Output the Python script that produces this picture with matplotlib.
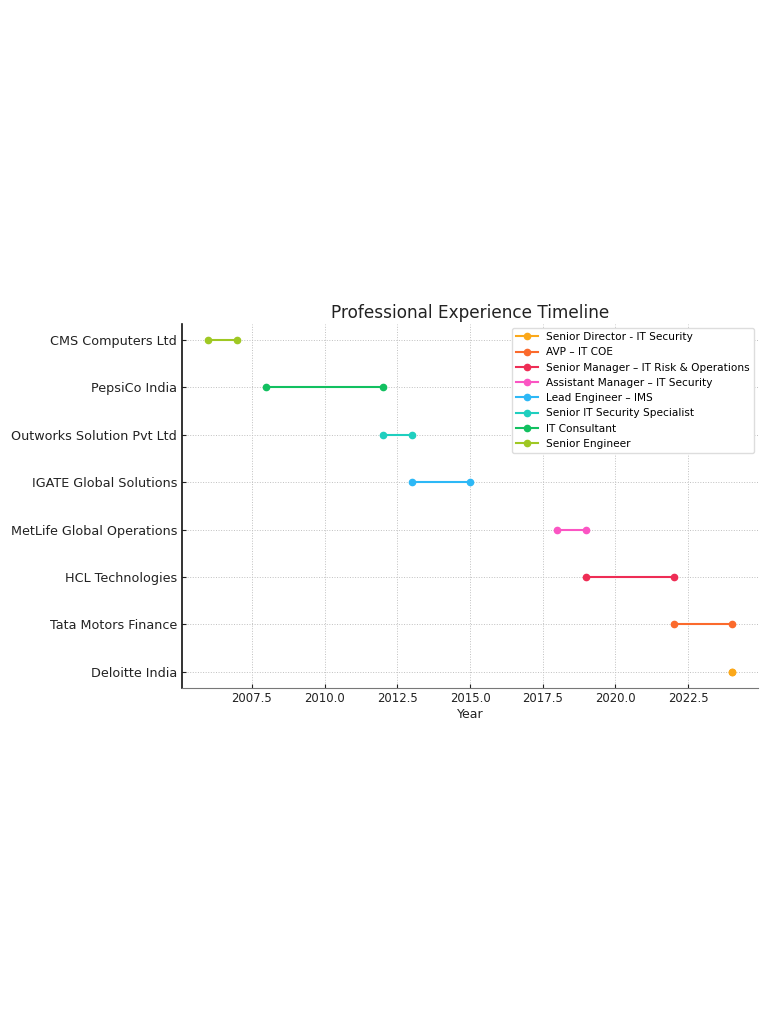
import matplotlib.pyplot as plt

# data, listed bottom to top as it appears on the axis
companies = ["Deloitte India", "Tata Motors Finance", "HCL Technologies",
             "MetLife Global Operations", "IGATE Global Solutions",
             "Outworks Solution Pvt Ltd", "PepsiCo India", "CMS Computers Ltd"]
roles = ["Senior Director - IT Security", "AVP – IT COE",
         "Senior Manager – IT Risk & Operations", "Assistant Manager – IT Security",
         "Lead Engineer – IMS", "Senior IT Security Specialist",
         "IT Consultant", "Senior Engineer"]
start_year = [2024, 2022, 2019, 2018, 2013, 2012, 2008, 2006]
end_year = [2024, 2024, 2022, 2019, 2015, 2013, 2012, 2007]
colors = ["#FBA81A", "#FB6A2C", "#EE2D55", "#FB55C3",
          "#2DB8F6", "#1FCFBF", "#12C060", "#9FC823"]

fig = plt.figure(figsize=(7.68, 10.24), dpi=100)
ax = fig.add_axes([0.237, 0.328, 0.75, 0.356])

for c, r, s, e, col in zip(companies, roles, start_year, end_year, colors):
    ax.plot([s, e], [c, c], marker="o", markersize=4.5, linewidth=1.5,
            color=col, label=r)

ax.set_title("Professional Experience Timeline", fontsize=12.2, color="#222222", pad=4)
ax.set_xlabel("Year", fontsize=9, color="#222222", labelpad=2)
ax.tick_params(axis="both", direction="in", length=3, colors="#222222",
               labelsize=9.2)
ax.tick_params(axis="x", labelsize=8.4, pad=3)
ax.grid(True, linestyle=":", color="#c0c0c0", linewidth=0.7)
ax.spines["top"].set_visible(False)
ax.spines["right"].set_visible(False)
ax.spines["left"].set_color("#111111")
ax.spines["left"].set_linewidth(1.2)
ax.spines["bottom"].set_color("#777777")
ax.legend(loc="upper right", fontsize=7.6, framealpha=1, edgecolor="#dddddd",
          borderaxespad=0.4, handlelength=2.0, labelspacing=0.5)

plt.savefig("out.png", dpi=100)
